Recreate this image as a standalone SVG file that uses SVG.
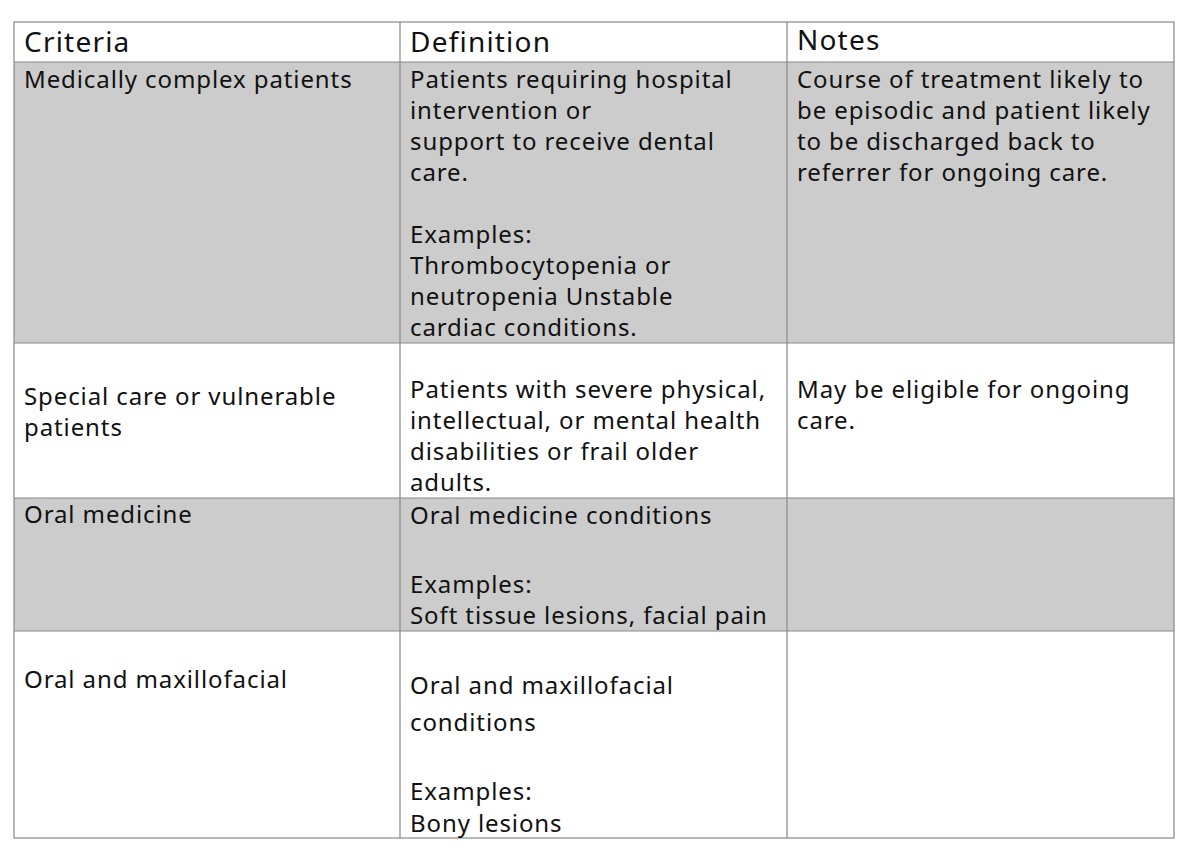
<svg xmlns="http://www.w3.org/2000/svg" width="1183" height="856" viewBox="0 0 1183 856">
<style>
text{font-family:"Noto Sans","DejaVu Sans",sans-serif;font-size:24px;letter-spacing:0.9px;fill:#111}
.h{font-size:28px;letter-spacing:1.2px}
.g{fill:#cccccc}
line{stroke:#888;stroke-width:1.2}
</style>
<rect width="1183" height="856" fill="#fff"/>
<g id="fills">
<rect class="g" x="14" y="62" width="1160" height="281"/>
<rect class="g" x="14" y="498" width="1160" height="133"/>
</g>
<g id="grid">
<rect x="14" y="22" width="1160" height="816" fill="none" stroke="#888" stroke-width="1.2"/>
<line x1="400" y1="22" x2="400" y2="838"/>
<line x1="787" y1="22" x2="787" y2="838"/>
<line x1="14" y1="62" x2="1174" y2="62"/>
<line x1="14" y1="343" x2="1174" y2="343"/>
<line x1="14" y1="498" x2="1174" y2="498"/>
<line x1="14" y1="631" x2="1174" y2="631"/>
</g>
<g id="header">
<text class="h" x="24" y="52">Criteria</text>
<text class="h" x="410" y="52">Definition</text>
<text class="h" x="797" y="50">Notes</text>
</g>
<g id="row1">
<text x="24" y="88">Medically complex patients</text>
<text x="410" y="88">Patients requiring hospital</text>
<text x="410" y="119">intervention or</text>
<text x="410" y="150">support to receive dental</text>
<text x="410" y="181">care.</text>
<text x="410" y="243">Examples:</text>
<text x="410" y="274">Thrombocytopenia or</text>
<text x="410" y="305">neutropenia Unstable</text>
<text x="410" y="336">cardiac conditions.</text>
<text x="797" y="88">Course of treatment likely to</text>
<text x="797" y="119">be episodic and patient likely</text>
<text x="797" y="150">to be discharged back to</text>
<text x="797" y="181">referrer for ongoing care.</text>
</g>
<g id="row2">
<text x="24" y="405">Special care or vulnerable</text>
<text x="24" y="436">patients</text>
<text x="410" y="398">Patients with severe physical,</text>
<text x="410" y="429">intellectual, or mental health</text>
<text x="410" y="460">disabilities or frail older</text>
<text x="410" y="491">adults.</text>
<text x="797" y="398">May be eligible for ongoing</text>
<text x="797" y="429">care.</text>
</g>
<g id="row3">
<text x="24" y="523">Oral medicine</text>
<text x="410" y="524">Oral medicine conditions</text>
<text x="410" y="593">Examples:</text>
<text x="410" y="624">Soft tissue lesions, facial pain</text>
</g>
<g id="row4">
<text x="24" y="688">Oral and maxillofacial</text>
<text x="410" y="694">Oral and maxillofacial</text>
<text x="410" y="731">conditions</text>
<text x="410" y="800">Examples:</text>
<text x="410" y="832">Bony lesions</text>
</g>
</svg>
